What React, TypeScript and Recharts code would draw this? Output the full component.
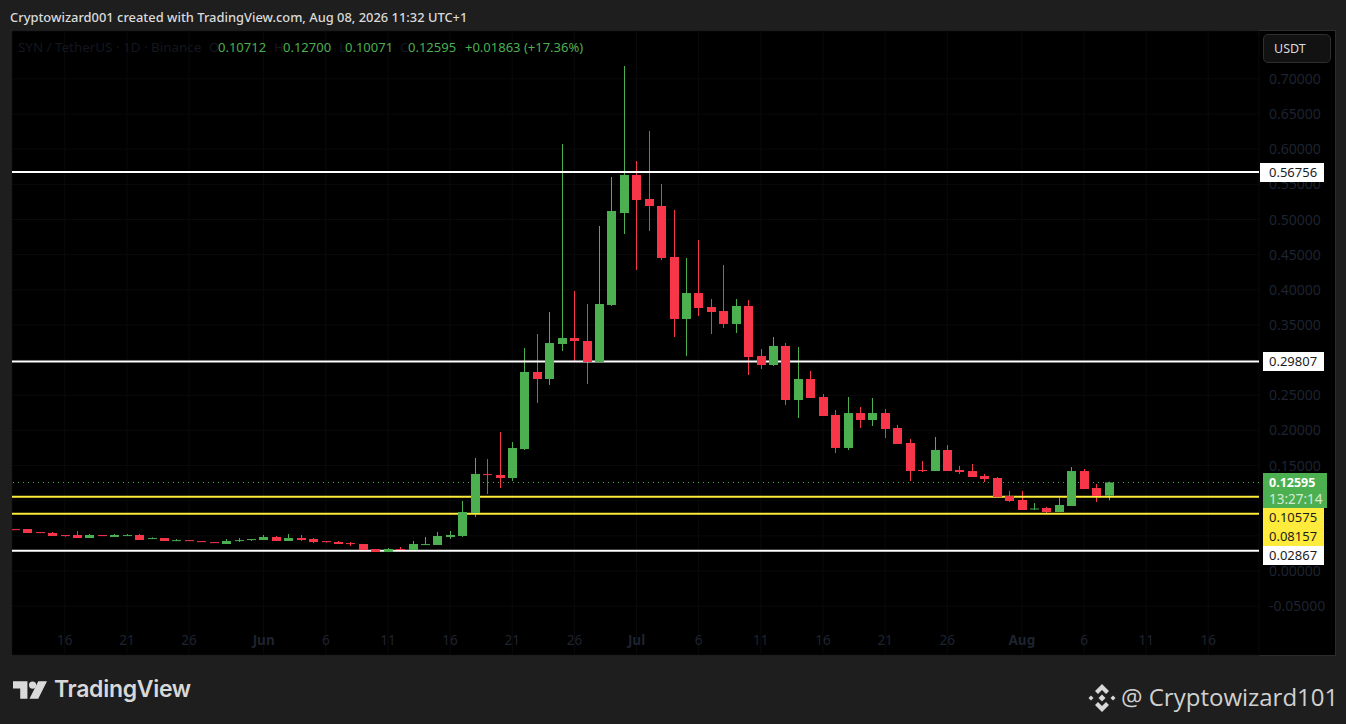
import React from "react";
import { ComposedChart, Bar, XAxis, YAxis, CartesianGrid, ReferenceLine } from "recharts";

const opens = [.0595,.0597,.0553,.0541,.0511,.0512,.0469,.0511,.0484,.0505,.0512,.0462,.0469,.0433,.0439,.0425,.0411,.0384,.0433,.0448,.0441,.0484,.0427,.0469,.0455,.0425,.0412,.0397,.0384,.0313,.0270,.0313,.0299,.0377,.0370,.0484,.0498,.0825,.1378,.1366,.1323,.1735,.2831,.2731,.3229,.3314,.3272,.2973,.3784,.5092,.5633,.5292,.5192,.4467,.3585,.3954,.3755,.3698,.3514,.3770,.3058,.2930,.3201,.2432,.2731,.2475,.2219,.1750,.2247,.2148,.2247,.2034,.1821,.1437,.1422,.1721,.1437,.1422,.1351,.1323,.1067,.1010,.0883,.0896,.0839,.0925,.1422,.1181,.10712];
const highs = [.0595,.0597,.0553,.0555,.0511,.0569,.0526,.0511,.0526,.0526,.0526,.0479,.0469,.0455,.0439,.0425,.0411,.0455,.0469,.0454,.0512,.0498,.0526,.0512,.0469,.0425,.0427,.0412,.0384,.0313,.0327,.0341,.0427,.0484,.0555,.0569,.0996,.1607,.1593,.1977,.1835,.3172,.3371,.3684,.6074,.3983,.3798,.4908,.5605,.7184,.5832,.6259,.5505,.5135,.4452,.4708,.3869,.4353,.3869,.3855,.3158,.3329,.3243,.3186,.2845,.2518,.2290,.2475,.2333,.2461,.2304,.2077,.1878,.1565,.1906,.1792,.1494,.1522,.1380,.1337,.1138,.1138,.0967,.0910,.1038,.1479,.1451,.1238,.12700];
const lows = [.0590,.0541,.0547,.0498,.0488,.0469,.0469,.0505,.0484,.0505,.0441,.0460,.0427,.0433,.0433,.0419,.0405,.0384,.0412,.0427,.0441,.0427,.0427,.0427,.0398,.0403,.0384,.0356,.0299,.0270,.0270,.0299,.0299,.0377,.0370,.0455,.0484,.0768,.1095,.1181,.1280,.1721,.2390,.2646,.3129,.2973,.2660,.2973,.3770,.4794,.4282,.4836,.4424,.3329,.3058,.3627,.3371,.3457,.3385,.2788,.2873,.2916,.2361,.2176,.2461,.2205,.1678,.1721,.2034,.2063,.1892,.1807,.1280,.1408,.1422,.1422,.1380,.1337,.1266,.1053,.0982,.0868,.0868,.0811,.0839,.0925,.1166,.0982,.10071];
const closes = [.0590,.0541,.0547,.0498,.0505,.0469,.0512,.0505,.0512,.0511,.0441,.0468,.0427,.0439,.0433,.0419,.0405,.0427,.0439,.0454,.0484,.0427,.0469,.0441,.0412,.0419,.0384,.0391,.0299,.0270,.0313,.0299,.0384,.0383,.0498,.0512,.0839,.1380,.1372,.1323,.1750,.2831,.2731,.3243,.3314,.3272,.2973,.3798,.5121,.5633,.5277,.5192,.4452,.3585,.3954,.3741,.3684,.3514,.3770,.3044,.2930,.3201,.2432,.2731,.2461,.2205,.1750,.2247,.2148,.2247,.2020,.1807,.1422,.1422,.1721,.1422,.1408,.1337,.1309,.1053,.0996,.0868,.0889,.0839,.0939,.1422,.1166,.1067,.12595];

const priceTicks = [-0.05, 0, 0.05, 0.1, 0.15, 0.2, 0.25, 0.3, 0.35, 0.4, 0.45, 0.5, 0.55, 0.6, 0.65, 0.7];
const coveredTicks = [0.05, 0.1, 0.3];
const dayTicks = [4, 9, 14, 20, 25, 30, 35, 40, 45, 50, 55, 60, 65, 70, 75, 81, 86, 91, 96];
const dayLabels = ["16", "21", "26", "Jun", "6", "11", "16", "21", "26", "Jul", "6", "11", "16", "21", "26", "Aug", "6", "11", "16"];
const whiteLevels = [0.56756, 0.29807, 0.02867];
const yellowLevels = [0.10575, 0.08157];
const lastPrice = 0.12595;

const candles = opens.map((o, i) => ({
  day: i,
  open: o,
  high: highs[i],
  low: lows[i],
  close: closes[i],
  wick: [lows[i], highs[i]],
  body: [Math.min(o, closes[i]), Math.max(o, closes[i])],
}));

const GREEN = "#4CAF50";
const RED = "#F7364A";
const AXIS = "#1E2330";
const FONT = "'Noto Sans', sans-serif";
const DAY_DOMAIN = [-0.247, 100.08];

const candleColor = (p: any) => (p.close >= p.open ? GREEN : RED);

const WickShape = (props: any) => {
  const { x, y, width, height, payload } = props;
  return <rect x={Math.round(x + width / 2 - 0.5)} y={y} width={1} height={height} fill={candleColor(payload)} />;
};
const BodyShape = (props: any) => {
  const { x, y, width, height, payload } = props;
  return <rect x={Math.round(x + width / 2 - 0.5) - 4} y={y} width={9} height={Math.max(height, 1)} fill={candleColor(payload)} />;
};

const PriceTick = (props: any) =>
  coveredTicks.includes(props.payload.value) ? null : (
    <text x={1269} y={props.y + 5} fontSize={14} fontFamily={FONT} fill={AXIS}>
      {props.payload.value.toFixed(5)}
    </text>
  );
const DayTick = (props: any) => {
  const label = dayLabels[dayTicks.indexOf(props.payload.value)];
  const bold = label.length > 2;
  return (
    <text x={props.x} y={645} textAnchor="middle" fontSize={13.5} fontWeight={bold ? 700 : 400} fontFamily={FONT} fill={AXIS}>
      {label}
    </text>
  );
};

const abs = (left: number, top: number, extra: React.CSSProperties = {}): React.CSSProperties => ({
  position: "absolute", left, top, whiteSpace: "nowrap", fontFamily: FONT, ...extra,
});
const ohlc: [string, number][] = [
  ["0.10712", 218], ["0.12700", 283], ["0.10071", 345], ["0.12595", 408], ["+0.01863 (+17.36%)", 465],
];
const ohlcLetters: [string, number][] = [["O", 209], ["H", 274], ["L", 339], ["C", 400]];
const tagStyle = (left: number, top: number, width: number, height: number, bg: string): React.CSSProperties => ({
  ...abs(left, top), width, height, background: bg, boxSizing: "border-box", paddingLeft: 1269 - left, fontSize: 13, lineHeight: "19px", color: "#1C1C1C",
});

export default function App() {
  return (
    <div style={{ position: "fixed", left: 0, top: 0, width: 1346, height: 724, background: "#1E1E1E", overflow: "hidden" }}>
      <div style={{ position: "absolute", left: 11, top: 30, width: 1325, height: 626, background: "#000", border: "1px solid #2C2C2C", boxSizing: "border-box" }} />
      <div style={abs(10, 8, { fontSize: 12.9, color: "#DADADA", fontWeight: 500 })}>Cryptowizard001 created with TradingView.com, Aug 08, 2026 11:32 UTC+1</div>
      <div style={{ position: "absolute", left: 0, top: 0 }}>
        <ComposedChart width={1346} height={724} data={candles} margin={{ left: 12, top: 31, right: 11, bottom: 68 }}>
          <CartesianGrid stroke="#0A0A0C" strokeWidth={1} />
          <XAxis dataKey="day" type="number" domain={DAY_DOMAIN} ticks={dayTicks} allowDataOverflow height={1} axisLine={false} tickLine={false} tick={<DayTick />} interval={0} />
          <XAxis xAxisId="w" dataKey="day" type="number" domain={DAY_DOMAIN} allowDataOverflow hide />
          <YAxis orientation="right" width={76} domain={[-0.11949, 0.76814]} ticks={priceTicks} allowDataOverflow axisLine={false} tickLine={false} tick={<PriceTick />} interval={0} />
          <Bar xAxisId="w" dataKey="wick" barSize={1} isAnimationActive={false} shape={<WickShape />} />
          <ReferenceLine y={lastPrice} stroke={GREEN} strokeWidth={1} strokeDasharray="1 4" />
          {whiteLevels.map((v) => (
            <ReferenceLine key={v} y={v} stroke="#FFFFFF" strokeWidth={2} />
          ))}
          {yellowLevels.map((v) => (
            <ReferenceLine key={v} y={v} stroke="#FFEB3B" strokeWidth={2} />
          ))}
          <Bar dataKey="body" barSize={9} isAnimationActive={false} shape={<BodyShape />} {...({ zIndex: 500 } as any)} />
        </ComposedChart>
      </div>

      <div style={abs(18, 38, { fontSize: 13.4, color: "#14171F" })}>SYN / TetherUS · 1D · Binance</div>
      {ohlcLetters.map(([t, x]) => (
        <div key={t} style={abs(x, 38, { fontSize: 13, color: "#14171F" })}>{t}</div>
      ))}
      {ohlc.map(([t, x]) => (
        <div key={t} style={abs(x, 38, { fontSize: 13, color: GREEN })}>{t}</div>
      ))}

      <div style={{ ...abs(1263, 34), width: 68, height: 29, boxSizing: "border-box", border: "1px solid #2E2E2E", borderRadius: 5, background: "#121212", color: "#DADADA", fontSize: 12.5, lineHeight: "27px", paddingLeft: 10 }}>USDT</div>

      <div style={tagStyle(1260, 163, 64, 19, "#FFFFFF")}>{whiteLevels[0].toFixed(5)}</div>
      <div style={tagStyle(1263, 352, 61, 19, "#FFFFFF")}>{whiteLevels[1].toFixed(5)}</div>
      <div style={{ ...abs(1263, 473), width: 64, height: 35, background: GREEN, boxSizing: "border-box", paddingLeft: 6, paddingTop: 1, lineHeight: "17px", color: "#fff" }}>
        <div style={{ fontWeight: 700, fontSize: 12.5 }}>{lastPrice.toFixed(5)}</div>
        <div style={{ opacity: 0.75, fontSize: 13.5 }}>13:27:14</div>
      </div>
      <div style={tagStyle(1263, 508, 61, 38, "#FFEB3B")}>
        <div>{yellowLevels[0].toFixed(5)}</div>
        <div>{yellowLevels[1].toFixed(5)}</div>
      </div>
      <div style={tagStyle(1263, 546, 61, 19, "#FFFFFF")}>{whiteLevels[2].toFixed(5)}</div>

      <svg style={{ position: "absolute", left: 13, top: 681 }} width={34} height={18} viewBox="0 0 33 17">
        <path d="M0 0H14V17H7V7H0z M33 0L24.5 17H16L24.5 0z" fill="#DADADA" />
        <circle cx={19} cy={3.7} r={3.5} fill="#DADADA" />
      </svg>
      <div style={abs(54, 675, { fontSize: 23, fontWeight: 600, color: "#D8D8D8", fontFamily: "Inter, sans-serif", letterSpacing: -0.3 })}>TradingView</div>

      <svg style={{ position: "absolute", left: 1088, top: 684 }} width={28} height={28} viewBox="0 0 28 28">
        <g fill="#D8D8D8">
          <path d="M14 0L21 7L18 10L14 6L10 10L7 7z" />
          <path d="M14 28L21 21L18 18L14 22L10 18L7 21z" />
          <path d="M14 10.500L17.500 14L14 17.500L10.500 14z" />
          <path d="M3 11.500L5.500 14L3 16.500L0.500 14z" />
          <path d="M25 11.500L27.500 14L25 16.500L22.500 14z" />
        </g>
      </svg>
      <div style={abs(1121, 680, { fontSize: 24, color: "#D0D0D0", fontFamily: "'Open Sans', sans-serif" })}>@ Cryptowizard101</div>
    </div>
  );
}
